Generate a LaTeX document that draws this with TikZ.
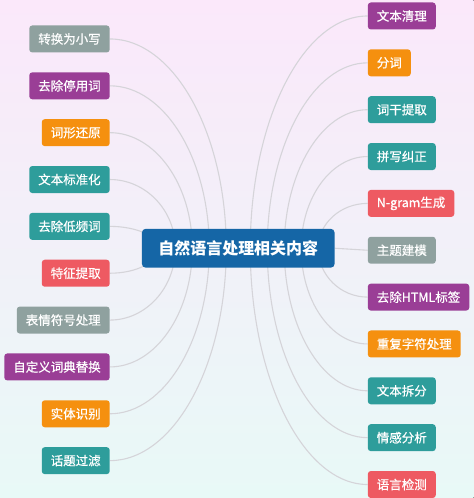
\documentclass[tikz,border=0pt]{standalone}
\usepackage{fontspec}
\setmainfont{Noto Sans CJK SC}
\newfontfamily\leaffont[FakeBold=0.6]{Noto Sans CJK SC}
\usetikzlibrary{positioning, calc, backgrounds}

\definecolor{bgtop}{HTML}{FBE8FA}
\definecolor{bgbot}{HTML}{E8F9F7}
\definecolor{rootblue}{HTML}{1566A6}
\definecolor{mmgray}{HTML}{8FA19F}
\definecolor{mmpurple}{HTML}{9A3E96}
\definecolor{mmorange}{HTML}{F5900F}
\definecolor{mmteal}{HTML}{2E9D9B}
\definecolor{mmred}{HTML}{EE5A62}
\definecolor{linkgray}{HTML}{D5D4D9}

\tikzset{
  leaf/.style={rounded corners=3pt, text=white, minimum height=27pt, inner xsep=9pt,
    font=\leaffont\fontsize{12.5}{15}\selectfont},
  branch/.style={draw=linkgray, line width=1.1pt,
    to path={.. controls ($(\tikztostart)!0.55!(\tikztotarget |- \tikztostart)$)
      and ($(\tikztotarget)!0.55!(\tikztotarget |- \tikztostart)$) .. (\tikztotarget)}}
}

\begin{document}
\begin{tikzpicture}[x=1pt, y=-1pt, node distance=19.5pt]
    % Root topic
    \node (C) [fill=rootblue, rounded corners=4pt, text=white, minimum width=193pt, minimum height=39pt,
      font=\fontsize{16}{19}\selectfont\bfseries] at (238.5,248.5) {自然语言处理相关内容};

    % Left column
    \node (L1) [leaf, fill=mmgray, anchor=east] at (110,39) {转换为小写};
    \node (L2) [leaf, fill=mmpurple, below=of L1.south east, anchor=north east] {去除停用词};
    \node (L3) [leaf, fill=mmorange, below=of L2.south east, anchor=north east] {词形还原};
    \node (L4) [leaf, fill=mmteal, below=of L3.south east, anchor=north east] {文本标准化};
    \node (L5) [leaf, fill=mmteal, below=of L4.south east, anchor=north east] {去除低频词};
    \node (L6) [leaf, fill=mmred, below=of L5.south east, anchor=north east] {特征提取};
    \node (L7) [leaf, fill=mmgray, below=of L6.south east, anchor=north east] {表情符号处理};
    \node (L8) [leaf, fill=mmpurple, below=of L7.south east, anchor=north east] {自定义词典替换};
    \node (L9) [leaf, fill=mmorange, below=of L8.south east, anchor=north east] {实体识别};
    \node (L10) [leaf, fill=mmteal, below=of L9.south east, anchor=north east] {话题过滤};

    % Right column
    \node (R1) [leaf, fill=mmpurple, anchor=west] at (368,16) {文本清理};
    \node (R2) [leaf, fill=mmorange, below=of R1.south west, anchor=north west] {分词};
    \node (R3) [leaf, fill=mmteal, below=of R2.south west, anchor=north west] {词干提取};
    \node (R4) [leaf, fill=mmteal, below=of R3.south west, anchor=north west] {拼写纠正};
    \node (R5) [leaf, fill=mmred, below=of R4.south west, anchor=north west] {N-gram生成};
    \node (R6) [leaf, fill=mmgray, below=of R5.south west, anchor=north west] {主题建模};
    \node (R7) [leaf, fill=mmpurple, below=of R6.south west, anchor=north west] {去除HTML标签};
    \node (R8) [leaf, fill=mmorange, below=of R7.south west, anchor=north west] {重复字符处理};
    \node (R9) [leaf, fill=mmteal, below=of R8.south west, anchor=north west] {文本拆分};
    \node (R10) [leaf, fill=mmteal, below=of R9.south west, anchor=north west] {情感分析};
    \node (R11) [leaf, fill=mmred, below=of R10.south west, anchor=north west] {语言检测};

    \begin{scope}[on background layer]
    % Background wash
    \fill[top color=bgtop, bottom color=bgbot] (0,0) rectangle (474,498);

    % Ends of the branches, hidden under the root
    \coordinate (cl1) at ([xshift=-12pt]C.center);
    \coordinate (cl2) at ([xshift=-29pt]C.center);
    \coordinate (cl3) at ([xshift=-46pt]C.center);
    \coordinate (cl4) at ([xshift=-63pt]C.center);
    \coordinate (cl5) at ([xshift=-80pt]C.center);
    \coordinate (cr1) at ([xshift=12pt]C.center);
    \coordinate (cr2) at ([xshift=29pt]C.center);
    \coordinate (cr3) at ([xshift=46pt]C.center);
    \coordinate (cr4) at ([xshift=63pt]C.center);
    \coordinate (cr5) at ([xshift=80pt]C.center);

    % Left branches
    \draw[branch] (L1.east) to (cl1);
    \draw[branch] (L2.east) to (cl2);
    \draw[branch] (L3.east) to (cl3);
    \draw[branch] (L4.east) to (cl4);
    \draw[branch] (L5.east) to (cl5);
    \draw[branch] (L6.east) to (cl5);
    \draw[branch] (L7.east) to (cl4);
    \draw[branch] (L8.east) to (cl3);
    \draw[branch] (L9.east) to (cl2);
    \draw[branch] (L10.east) to (cl1);

    % Right branches
    \draw[branch] (R1.west) to (cr1);
    \draw[branch] (R2.west) to (cr2);
    \draw[branch] (R3.west) to (cr3);
    \draw[branch] (R4.west) to (cr4);
    \draw[branch] (R5.west) to (cr5);
    \draw[draw=linkgray, line width=1.1pt] (C.east) -- (R6.west);
    \draw[branch] (R7.west) to (cr5);
    \draw[branch] (R8.west) to (cr4);
    \draw[branch] (R9.west) to (cr3);
    \draw[branch] (R10.west) to (cr2);
    \draw[branch] (R11.west) to (cr1);
    \end{scope}
\end{tikzpicture}
\end{document}
